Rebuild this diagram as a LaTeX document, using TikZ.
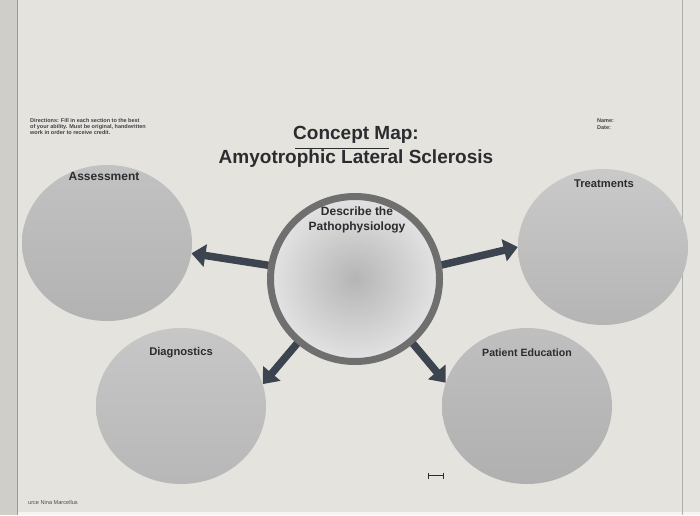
\documentclass[tikz,border=0pt]{standalone}
\usepackage{fontspec}
\setmainfont{Liberation Sans}
\usetikzlibrary{shapes.geometric,arrows.meta}
\definecolor{paper}{HTML}{E5E3DD}
\definecolor{strip}{HTML}{D0CEC9}
\definecolor{edgeln}{HTML}{9C9A95}
\definecolor{ink}{HTML}{2B2C30}
\definecolor{arrowc}{HTML}{3C4450}
\definecolor{ringc}{HTML}{6F6F70}
\pgfdeclarelayer{paperlayer}
\pgfdeclarelayer{arrowlayer}
\pgfsetlayers{paperlayer,arrowlayer,main}
\tikzset{
  topic/.style 2 args={ellipse, inner sep=0pt, minimum width=170pt, minimum height=156pt,
    top color=black!#1, bottom color=black!#2, draw=none},
  hub/.style={ellipse, inner sep=0pt, minimum width=169pt, minimum height=165pt,
    draw=ringc, line width=7pt, inner color=black!29, outer color=black!11},
  lab/.style={font=\bfseries, text=ink, inner sep=0pt, align=center},
  link/.style={draw=arrowc, line width=7.5pt, -{Triangle[width=22pt,length=14pt]}},
  tiny/.style={font=\bfseries\fontsize{5.5}{6.3}\selectfont, text=ink!90, inner sep=0pt, align=left},
}
\begin{document}
\begin{tikzpicture}[x=1pt,y=-1pt]
\useasboundingbox (0,0) rectangle (700,515);
\begin{pgfonlayer}{paperlayer}
  \fill[paper] (0,0) rectangle (700,515);
  \fill[strip] (0,0) rectangle (17,515);
  \fill[white!60!paper] (17,512) rectangle (700,515);
  \draw[edgeln, line width=1pt] (17,0) -- (17,515);
  \draw[edgeln!80, line width=0.8pt] (682,0) -- (682,515);
\end{pgfonlayer}

% circles
\node[topic={24}{30}] (assess) at (107,243) {};
\node[topic={21}{29}] (treat) at (603,247) {};
\node[topic={22}{28}] (diag) at (181,406) {};
\node[topic={25}{31}] (edu) at (527,406) {};
\node[hub] (hub) at (355,279) {};

% arrows
\begin{pgfonlayer}{arrowlayer}
  \draw[link] ([shift={(171:-4pt)}]hub.171) -- (assess.-7);
  \draw[link] ([shift={(9:-4pt)}]hub.9) -- (treat.180);
  \draw[link] ([shift={(-132:-4pt)}]hub.-132) -- (diag.15);
  \draw[link] ([shift={(-48:-4pt)}]hub.-48) -- (edu.164);
\end{pgfonlayer}

% labels
\node[lab, font=\bfseries\fontsize{12}{14}\selectfont] (lassess) at (104,176) {Assessment};
\node[lab, font=\bfseries\fontsize{11.2}{13}\selectfont] (ltreat) at (604,184) {Treatments};
\node[lab, font=\bfseries\fontsize{11.2}{13}\selectfont] (ldiag) at (181,353) {Diagnostics};
\node[lab, font=\bfseries\fontsize{10.6}{13}\selectfont] (ledu) at (527,353) {Patient Education};
\node[lab, font=\bfseries\fontsize{12}{15}\selectfont] (lhub) at (357,220) {Describe the\\Pathophysiology};

% title
\node[lab, font=\bfseries\fontsize{19}{24}\selectfont] (title) at (356,147) {Concept Map:\\Amyotrophic Lateral Sclerosis};
\coordinate (ulA) at (295,148.5);
\coordinate (ulB) at (389,148.5);
\draw[ink, line width=1.6pt] (ulA) -- (ulB);

% small texts
\node[tiny, anchor=north west] (dirs) at (30,118) {Directions: Fill in each section to the best\\of your ability. Must be original, handwritten\\work in order to receive credit.};
\node[tiny, anchor=north west] (namedate) at (597,119) {Name:\\Date:};
\node[font=\fontsize{5.6}{7}\selectfont, text=ink!85, inner sep=0pt, anchor=west] (src) at (28,502) {urce Nina Marcellus};

% small bar mark
\coordinate (mA) at (428,475.5);
\coordinate (mB) at (444,475.5);
\draw[ink, line width=0.9pt, {Bar[width=6pt]}-{Bar[width=6pt]}] (mA) -- (mB);
\end{tikzpicture}
\end{document}
